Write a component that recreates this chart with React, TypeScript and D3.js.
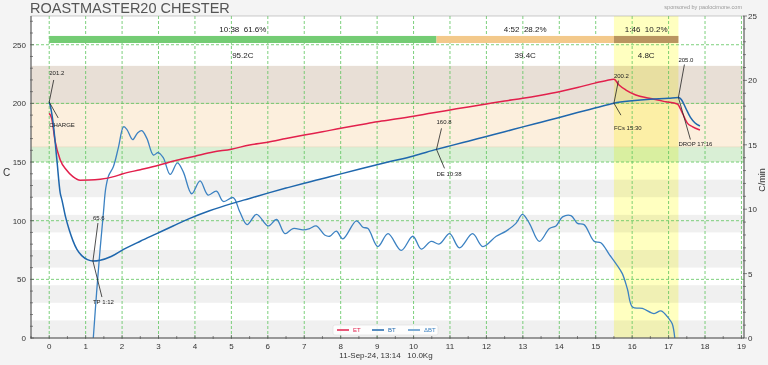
import React from 'react';
import * as d3 from 'd3';

// roast curves: [minutes, value]
const etCurve: [number, number][] = [
  [0, 191.5], [0.07, 187], [0.16, 168], [0.3, 152], [0.48, 143], [0.65, 137.5], [0.85, 134.5],
  [1.1, 134.6], [1.4, 135.3], [1.8, 137.8], [2.0, 139.8], [2.5, 143.5], [3.0, 147.3], [3.5, 151.5],
  [4.0, 155], [4.5, 158.5], [5.0, 161], [5.5, 164.5], [6.0, 166.8], [6.5, 170], [7.0, 173],
  [7.5, 175.8], [8.0, 178.8], [8.5, 181.5], [9.0, 184.4], [9.5, 186.6], [10.0, 189], [10.5, 191.8],
  [11.0, 194.4], [11.5, 197], [12.0, 199.5], [12.5, 202], [13.0, 204.3], [13.5, 207], [14.0, 210],
  [14.5, 213.5], [15.0, 217.5], [15.3, 219.5], [15.5, 220.5], [15.64, 215.7], [15.83, 211.4],
  [16.1, 207.2], [16.47, 204.3], [16.92, 201.4], [17.24, 199.5], [17.38, 191.6], [17.52, 183],
  [17.65, 180.2], [17.86, 177.3],
];

const btCurve: [number, number][] = [
  [0, 201.2], [0.05, 195], [0.12, 180], [0.21, 152], [0.3, 124], [0.35, 117.6], [0.45, 103],
  [0.55, 92], [0.65, 83], [0.76, 75.5], [0.9, 70], [1.05, 66.8], [1.2, 65.6], [1.4, 66.3],
  [1.7, 69.5], [2.04, 75.5], [2.5, 82.5], [2.95, 89], [3.4, 95.5], [3.86, 102], [4.4, 108.5],
  [5.05, 115], [5.5, 119], [6, 123.5], [6.5, 127.8], [7, 132], [7.7, 137.5], [8.5, 143.8],
  [9.3, 150], [10, 155.2], [10.63, 160.8], [11, 163.8], [11.5, 167.8], [12, 171.8], [12.5, 175.8],
  [13, 180], [13.5, 184], [14, 188], [14.5, 192.2], [15, 196.2], [15.5, 200.2], [16, 202.2],
  [16.5, 203.5], [17, 204.3], [17.27, 205.0], [17.35, 203.3], [17.47, 196], [17.6, 188],
  [17.72, 183.5], [17.86, 180.7],
];

const dbtCurve: [number, number][] = [
  [1.21, 0], [1.3, 3.5], [1.4, 7.0], [1.49, 9.8], [1.55, 11.6], [1.63, 12.6], [1.76, 13.3],
  [1.9, 14.8], [2.04, 16.4], [2.13, 16.2], [2.29, 15.4], [2.42, 15.9], [2.54, 16.1], [2.68, 15.5],
  [2.86, 14.2], [2.99, 14.4], [3.13, 14.0], [3.32, 12.7], [3.52, 13.6], [3.68, 12.9], [3.91, 11.2],
  [4.14, 12.2], [4.36, 11.1], [4.59, 11.4], [4.78, 10.6], [5.05, 10.9], [5.23, 9.8], [5.43, 8.8],
  [5.69, 9.6], [6.01, 8.7], [6.24, 9.2], [6.47, 8.1], [6.69, 8.5], [6.97, 8.4], [7.15, 8.5],
  [7.33, 8.7], [7.56, 8.0], [7.7, 7.9], [7.88, 8.3], [8.06, 7.7], [8.43, 9.1], [8.61, 8.6],
  [8.75, 8.5], [9.02, 7.1], [9.3, 8.1], [9.66, 6.8], [9.98, 7.9], [10.21, 6.9], [10.48, 7.5],
  [10.71, 7.3], [10.99, 8.1], [11.26, 7.0], [11.62, 8.1], [11.9, 7.1], [12.27, 7.9], [12.54, 8.3],
  [12.81, 8.9], [12.99, 9.6], [13.18, 8.9], [13.45, 7.5], [13.73, 8.5], [13.91, 8.7], [14.09, 9.4],
  [14.32, 9.5], [14.5, 8.9], [14.68, 8.8], [14.96, 7.5], [15.14, 7.4], [15.37, 6.5], [15.55, 5.8],
  [15.73, 5.0], [15.87, 3.8], [16.01, 2.4], [16.28, 2.3], [16.6, 1.9], [16.79, 2.1], [17.01, 1.5],
  [17.1, 1.1], [17.17, 0],
];

// phases
const phaseStart = [0, 10.63, 15.5];
const phaseEnd = [10.63, 15.5, 17.27];
const phaseTimeText = ['10:38  61.6%', '4:52  28.2%', '1:46  10.2%'];
const phaseDeltaText = ['95.2C', '39.4C', '4.8C'];

// events
const eventTime = [0, 1.2, 10.63, 15.5, 17.27];
const eventTemp = [201.2, 65.6, 160.8, 200.2, 205.0];
const eventName = ['CHARGE', 'TP 1:12', 'DE 10:38', 'FCs 15:30', 'DROP 17:16'];

// background bands (temperature ranges)
const bandRanges: [number, number][] = [
  [0, 15], [30, 45], [60, 75], [90, 105], [120, 135], [150, 163], [163, 200], [200, 232],
];

const xTicks = d3.range(0, 20);
const tempTicks = [0, 50, 100, 150, 200, 250];
const rorTicks = [0, 5, 10, 15, 20, 25];

const FONT = 'Liberation Sans, Arial, sans-serif';
const bandColors = ['#f0f0f0', '#f0f0f0', '#f0f0f0', '#f0f0f0', '#f0f0f0', '#d9efd5', '#fcefdd', '#e8dfd6'];
const phaseColors = ['#74cc74', '#f3c98b', '#b99560'];
const ET_COLOR = '#e2204c';
const BT_COLOR = '#1f67ad';
const DBT_COLOR = '#3c82c2';
const GRID = '#5cc45c';

// annotation leader offsets in px: [upDx, upDy, upLabelDy, downDx, downDy, downLabelDy]
const annoOffsets = [
  [4.5, -22, -27, 9, 16, 25],
  [5, -38, -41, 9, 36, 43],
  [5, -21, -25.5, 8, 19, 27],
  [4.5, -22.5, -25, 7, 12, 27],
  [6, -33, -36, 12, 42, 48],
];

// keep runs of spaces visible in svg text
const keepSpaces = (s: string) => s.replace(/ (?= )/g, '\u00a0');

export default function App() {
  const left = 31, right = 744, top = 16, bottom = 338;
  const x = d3.scaleLinear().domain([-0.5, 19.07]).range([left, right]);
  const yT = d3.scaleLinear().domain([0, 274.5]).range([bottom, top]);
  const yR = d3.scaleLinear().domain([0, 25]).range([bottom, top]);

  const etLine = d3.line<[number, number]>().x(d => x(d[0])).y(d => yT(d[1])).curve(d3.curveMonotoneX);
  const dbtLine = d3.line<[number, number]>().x(d => x(d[0])).y(d => yR(d[1])).curve(d3.curveCatmullRom.alpha(0.5));

  const minorX = d3.range(-0.5, 19.01, 0.5);
  const minorT = d3.range(0, 271, 10);
  const minorR = d3.range(0, 26, 1);

  return (
    <div style={{ position: 'absolute', left: 0, top: 0 }}>
      <svg width={768} height={365} style={{ display: 'block', fontFamily: FONT }}>
        <defs>
          <clipPath id="plot">
            <rect x={left} y={top} width={right - left} height={bottom - top} />
          </clipPath>
        </defs>
        <rect x={0} y={0} width={768} height={365} fill="#f4f4f4" />
        <rect x={left} y={top} width={right - left} height={bottom - top} fill="#ffffff" />

        {bandRanges.map((r, i) => (
          <rect key={'b' + i} x={left} width={right - left} y={yT(r[1])} height={yT(r[0]) - yT(r[1])} fill={bandColors[i]} />
        ))}
        <line x1={left} x2={right} y1={yT(163)} y2={yT(163)} stroke="#e6d9b8" strokeWidth={0.6} />
        <line x1={left} x2={right} y1={yT(200)} y2={yT(200)} stroke="#cfc7a8" strokeWidth={0.6} />

        {/* first crack -> drop */}
        <rect x={x(eventTime[3])} width={x(eventTime[4]) - x(eventTime[3])} y={top} height={bottom - top}
          fill="#ffffc0" style={{ mixBlendMode: 'multiply' }} />

        {/* grid */}
        {xTicks.map(t => (
          <line key={'gx' + t} x1={x(t)} x2={x(t)} y1={top} y2={bottom} stroke={GRID} strokeWidth={0.8} strokeDasharray="3,2" />
        ))}
        {tempTicks.filter(t => t > 0).map(t => (
          <line key={'gy' + t} x1={left} x2={right} y1={yT(t)} y2={yT(t)} stroke={GRID} strokeWidth={0.8} strokeDasharray="3,2" />
        ))}

        {/* phase bar */}
        {phaseStart.map((s, i) => {
          const cx = (x(s) + x(phaseEnd[i])) / 2;
          return (
            <g key={'p' + i}>
              <rect x={x(s)} width={x(phaseEnd[i]) - x(s)} y={yT(257.5)} height={yT(251.5) - yT(257.5)} fill={phaseColors[i]} />
              <text x={cx} y={yT(257.5) - 4} fontSize={8} textAnchor="middle" fill="#222">{keepSpaces(phaseTimeText[i])}</text>
              <text x={cx} y={yT(251.5) + 15} fontSize={8} textAnchor="middle" fill="#222">{phaseDeltaText[i]}</text>
            </g>
          );
        })}

        {/* curves */}
        <g clipPath="url(#plot)">
          <path d={dbtLine(dbtCurve) || ''} fill="none" stroke={DBT_COLOR} strokeWidth={1.3} />
          <path d={etLine(etCurve) || ''} fill="none" stroke={ET_COLOR} strokeWidth={1.5} />
          <path d={etLine(btCurve) || ''} fill="none" stroke={BT_COLOR} strokeWidth={1.5} />
        </g>

        {/* event annotations */}
        {eventTime.map((t, i) => {
          const px = x(t), py = yT(eventTemp[i]);
          const o = annoOffsets[i];
          return (
            <g key={'e' + i} fontSize={6} fill="#222">
              <line x1={px} y1={py} x2={px + o[0]} y2={py + o[1]} stroke="#222" strokeWidth={0.8} />
              <line x1={px} y1={py} x2={px + o[3]} y2={py + o[4]} stroke="#222" strokeWidth={0.8} />
              <text x={px} y={py + o[2]}>{eventTemp[i].toFixed(1)}</text>
              <text x={px} y={py + o[5]}>{eventName[i]}</text>
            </g>
          );
        })}

        {/* frame and axes */}
        <rect x={left} y={top} width={right - left} height={bottom - top} fill="none" stroke="#999" strokeWidth={0.5} />
        <line x1={left} x2={right} y1={bottom} y2={bottom} stroke="#555" strokeWidth={1} />
        <line x1={left} x2={left} y1={top} y2={bottom} stroke="#555" strokeWidth={1} />
        <line x1={right} x2={right} y1={top} y2={bottom} stroke="#555" strokeWidth={1} />

        {minorX.map(t => (
          <line key={'mx' + t} x1={x(t)} x2={x(t)} y1={bottom - (Number.isInteger(t) ? 3 : 2)} y2={bottom + 1} stroke="#555" strokeWidth={0.7} />
        ))}
        {xTicks.map(t => (
          <text key={'lx' + t} x={x(t)} y={bottom + 11} fontSize={8} textAnchor="middle" fill="#333">{t}</text>
        ))}

        {minorT.map(t => (
          <line key={'mt' + t} x1={left - 1} x2={left + (t % 50 === 0 ? 3 : 2)} y1={yT(t)} y2={yT(t)} stroke="#555" strokeWidth={0.7} />
        ))}
        {tempTicks.map(t => (
          <text key={'lt' + t} x={left - 5} y={yT(t) + 3} fontSize={8} textAnchor="end" fill="#333">{t}</text>
        ))}

        {minorR.map(t => (
          <line key={'mr' + t} x1={right - 1} x2={right + (t % 5 === 0 ? 3 : 2)} y1={yR(t)} y2={yR(t)} stroke="#555" strokeWidth={0.7} />
        ))}
        {rorTicks.map(t => (
          <text key={'lr' + t} x={right + 4} y={yR(t) + 3} fontSize={8} textAnchor="start" fill="#333">{t}</text>
        ))}

        {/* labels */}
        <text x={30} y={13} fontSize={14.5} fill="#555">ROASTMASTER20 CHESTER</text>
        <text x={742} y={9} fontSize={5.5} textAnchor="end" fill="#999">sponsored by paolocimone.com</text>
        <text x={3} y={176} fontSize={10} fill="#333">C</text>
        <text transform="translate(765,180) rotate(-90)" fontSize={9} textAnchor="middle" fill="#333">C/min</text>
        <text x={386} y={358} fontSize={8} textAnchor="middle" fill="#333">{keepSpaces('11-Sep-24, 13:14   10.0Kg')}</text>

        {/* legend */}
        <g fontSize={6}>
          <rect x={333} y={325} width={105} height={10} rx={2} fill="#ffffff" fillOpacity={0.85} stroke="#dddddd" strokeWidth={0.6} />
          <line x1={337} x2={349} y1={330} y2={330} stroke={ET_COLOR} strokeWidth={1.5} />
          <text x={353} y={332} fill={ET_COLOR}>ET</text>
          <line x1={372} x2={384} y1={330} y2={330} stroke={BT_COLOR} strokeWidth={1.5} />
          <text x={388} y={332} fill={BT_COLOR}>BT</text>
          <line x1={408} x2={420} y1={330} y2={330} stroke={DBT_COLOR} strokeWidth={1.3} />
          <text x={424} y={332} fill={DBT_COLOR}>ΔBT</text>
        </g>
      </svg>
    </div>
  );
}
